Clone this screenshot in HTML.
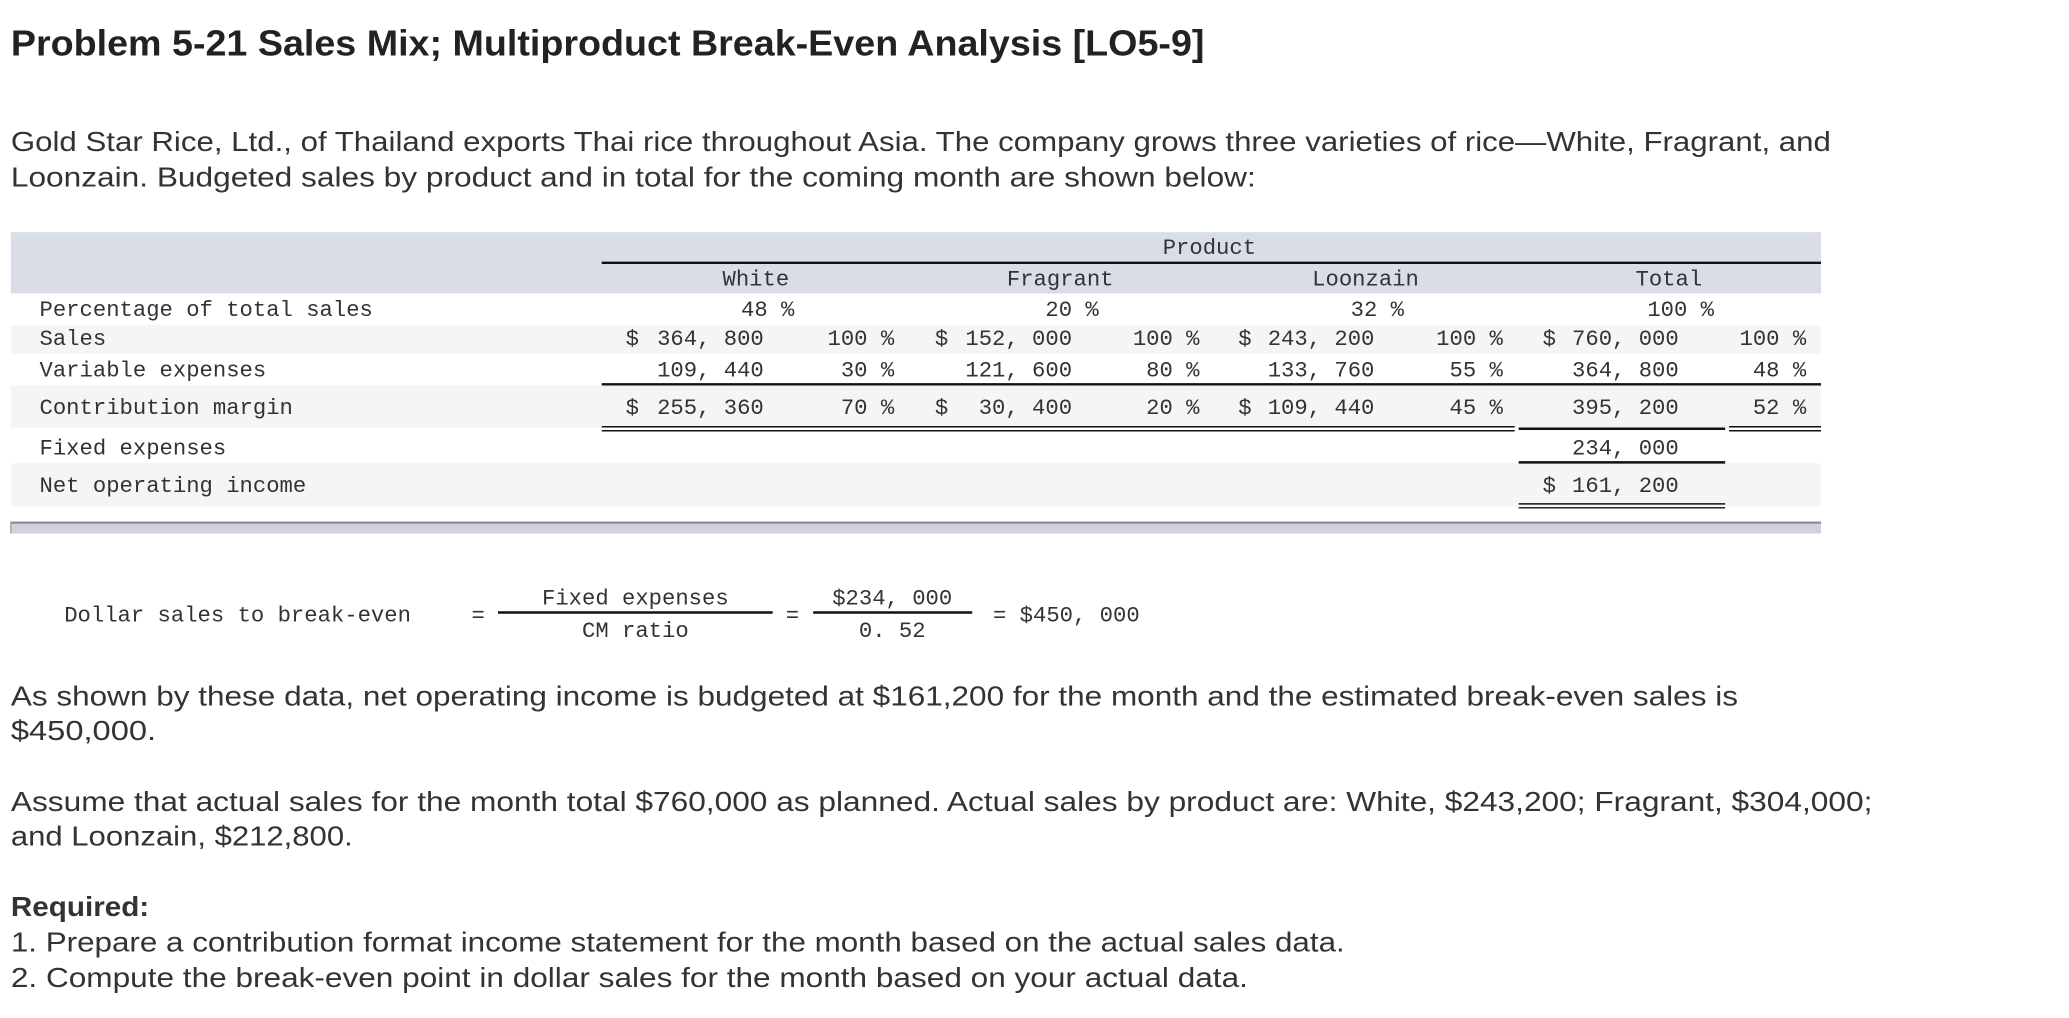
<!DOCTYPE html>
<html><head><meta charset="utf-8"><style>
html,body{margin:0;padding:0;background:#fff;width:2069px;height:1018px;overflow:hidden}
svg{display:block}
.b{font-family:"Liberation Sans",sans-serif;font-size:28px;fill:#333}
.t{font-family:"Liberation Mono","Noto Sans CJK SC",monospace;font-size:22.5px;fill:#333}
</style></head><body>
<svg id="s" width="2069" height="1018" viewBox="0 0 2094 1030.4" preserveAspectRatio="none">
<text x="11" y="56" font-family="Liberation Sans, sans-serif" font-weight="bold" font-size="37" fill="#222" textLength="1208" lengthAdjust="spacingAndGlyphs">Problem 5-21 Sales Mix; Multiproduct Break-Even Analysis [LO5-9]</text>
<text class="b" x="11" y="153" textLength="1842" lengthAdjust="spacingAndGlyphs">Gold Star Rice, Ltd., of Thailand exports Thai rice throughout Asia. The company grows three varieties of rice—White, Fragrant, and</text>
<text class="b" x="11" y="189" textLength="1260" lengthAdjust="spacingAndGlyphs">Loonzain. Budgeted sales by product and in total for the coming month are shown below:</text>

<g>
<rect x="11" y="235" width="1832" height="62" fill="#d9dde8"/>
<rect x="11" y="329" width="1832" height="29" fill="#f5f5f5"/>
<rect x="11" y="390" width="1832" height="43" fill="#f5f5f5"/>
<rect x="11" y="469" width="1832" height="44" fill="#f5f5f5"/>
<rect x="11" y="528" width="1832" height="12" fill="#cdd2de"/>
<line x1="11" y1="529" x2="1843" y2="529" stroke="#888" stroke-width="2"/>
<line x1="11" y1="528" x2="11" y2="540" stroke="#888" stroke-width="1"/>
<line x1="609" y1="266" x2="1843" y2="266" stroke="#111" stroke-width="2.5"/>
<text class="t" x="1224" y="257" text-anchor="middle">Product</text>
<line x1="609" y1="389" x2="1843" y2="389" stroke="#111" stroke-width="2.5"/>
<line x1="609" y1="432" x2="1533" y2="432" stroke="#111" stroke-width="1.5"/>
<line x1="609" y1="436" x2="1533" y2="436" stroke="#111" stroke-width="1.5"/>
<line x1="1537" y1="434" x2="1746" y2="434" stroke="#111" stroke-width="2.5"/>
<line x1="1750" y1="432" x2="1843" y2="432" stroke="#111" stroke-width="1.5"/>
<line x1="1750" y1="436" x2="1843" y2="436" stroke="#111" stroke-width="1.5"/>
<line x1="1537" y1="468" x2="1746" y2="468" stroke="#111" stroke-width="2.5"/>
<line x1="1537" y1="510" x2="1746" y2="510" stroke="#111" stroke-width="1.5"/>
<line x1="1537" y1="514" x2="1746" y2="514" stroke="#111" stroke-width="1.5"/>
<g id="cells"></g>
</g>

<g>
<text class="t" x="65" y="629">Dollar sales to break-even</text>
<text class="t" x="484" y="629" text-anchor="middle">=</text>
<line x1="504" y1="620" x2="782" y2="620" stroke="#111" stroke-width="2.5"/>
<text class="t" x="643" y="612" text-anchor="middle">Fixed expenses</text>
<text class="t" x="643" y="645" text-anchor="middle">CM ratio</text>
<text class="t" x="802" y="629" text-anchor="middle">=</text>
<line x1="823" y1="620" x2="984" y2="620" stroke="#111" stroke-width="2.5"/>
<text class="t" x="903" y="612" text-anchor="middle">$234, 000</text>
<text class="t" x="903" y="645" text-anchor="middle">0. 52</text>
<text class="t" x="1005" y="629">= $450, 000</text>
</g>

<text class="b" x="11" y="714" textLength="1748" lengthAdjust="spacingAndGlyphs">As shown by these data, net operating income is budgeted at $161,200 for the month and the estimated break-even sales is</text>
<text class="b" x="11" y="749" textLength="147" lengthAdjust="spacingAndGlyphs">$450,000.</text>
<text class="b" x="11" y="821" textLength="1884" lengthAdjust="spacingAndGlyphs">Assume that actual sales for the month total $760,000 as planned. Actual sales by product are: White, $243,200; Fragrant, $304,000;</text>
<text class="b" x="11" y="856" textLength="346" lengthAdjust="spacingAndGlyphs">and Loonzain, $212,800.</text>
<text class="b" x="11" y="927" font-weight="bold" fill="#222" textLength="140" lengthAdjust="spacingAndGlyphs">Required:</text>
<text class="b" x="11" y="963" textLength="1350" lengthAdjust="spacingAndGlyphs">1. Prepare a contribution format income statement for the month based on the actual sales data.</text>
<text class="b" x="11" y="999" textLength="1252" lengthAdjust="spacingAndGlyphs">2. Compute the break-even point in dollar sales for the month based on your actual data.</text>
</svg>
<script>
const products = ["White", "Fragrant", "Loonzain", "Total"];
const mixPct = ["48 %", "20 %", "32 %", "100 %"];
const salesVals = ["364, 800", "152, 000", "243, 200", "760, 000"];
const salesPct = ["100 %", "100 %", "100 %", "100 %"];
const varVals = ["109, 440", "121, 600", "133, 760", "364, 800"];
const varPct = ["30 %", "80 %", "55 %", "48 %"];
const cmVals = ["255, 360", "30, 400", "109, 440", "395, 200"];
const cmPct = ["70 %", "20 %", "45 %", "52 %"];
const fixedExp = "234, 000";
const netIncome = "161, 200";
const rowLabels = ["Percentage of total sales", "Sales", "Variable expenses", "Contribution margin", "Fixed expenses", "Net operating income"];

const NS = "http://www.w3.org/2000/svg";
const g = document.getElementById("cells");
const dollarX = [640, 953, 1260, 1568];
const valX = [773, 1085, 1391, 1699];
const pctX = [905, 1214, 1521, 1828];
const titleX = [765, 1073, 1382, 1689];
const rowY = [320, 349, 381, 419, 460, 498];
function txt(x, y, s, anchor, name) {
  const t = document.createElementNS(NS, "text");
  t.setAttribute("class", "t");
  t.setAttribute("x", x);
  t.setAttribute("y", y);
  t.setAttribute("text-anchor", anchor);
  t.textContent = s;
  
  
  g.appendChild(t);
}
rowLabels.forEach((l, i) => txt(40, rowY[i], l, "start", "row-label"));
products.forEach((p, i) => {
  txt(titleX[i], 289, p, "middle", "column-title");
  txt(titleX[i] + 12, rowY[0], mixPct[i], "middle", "mix-percent");
  txt(dollarX[i], rowY[1], "$", "middle", "dollar-sign");
  txt(valX[i], rowY[1], salesVals[i], "end", "sales-value");
  txt(pctX[i], rowY[1], salesPct[i], "end", "sales-percent");
  txt(valX[i], rowY[2], varVals[i], "end", "variable-value");
  txt(pctX[i], rowY[2], varPct[i], "end", "variable-percent");
  if (i < 3) txt(dollarX[i], rowY[3], "$", "middle", "dollar-sign");
  txt(valX[i], rowY[3], cmVals[i], "end", "cm-value");
  txt(pctX[i], rowY[3], cmPct[i], "end", "cm-percent");
});
txt(valX[3], rowY[4], fixedExp, "end", "fixed-expenses-value");
txt(dollarX[3], rowY[5], "$", "middle", "dollar-sign");
txt(valX[3], rowY[5], netIncome, "end", "net-income-value");
</script>
</body></html>
